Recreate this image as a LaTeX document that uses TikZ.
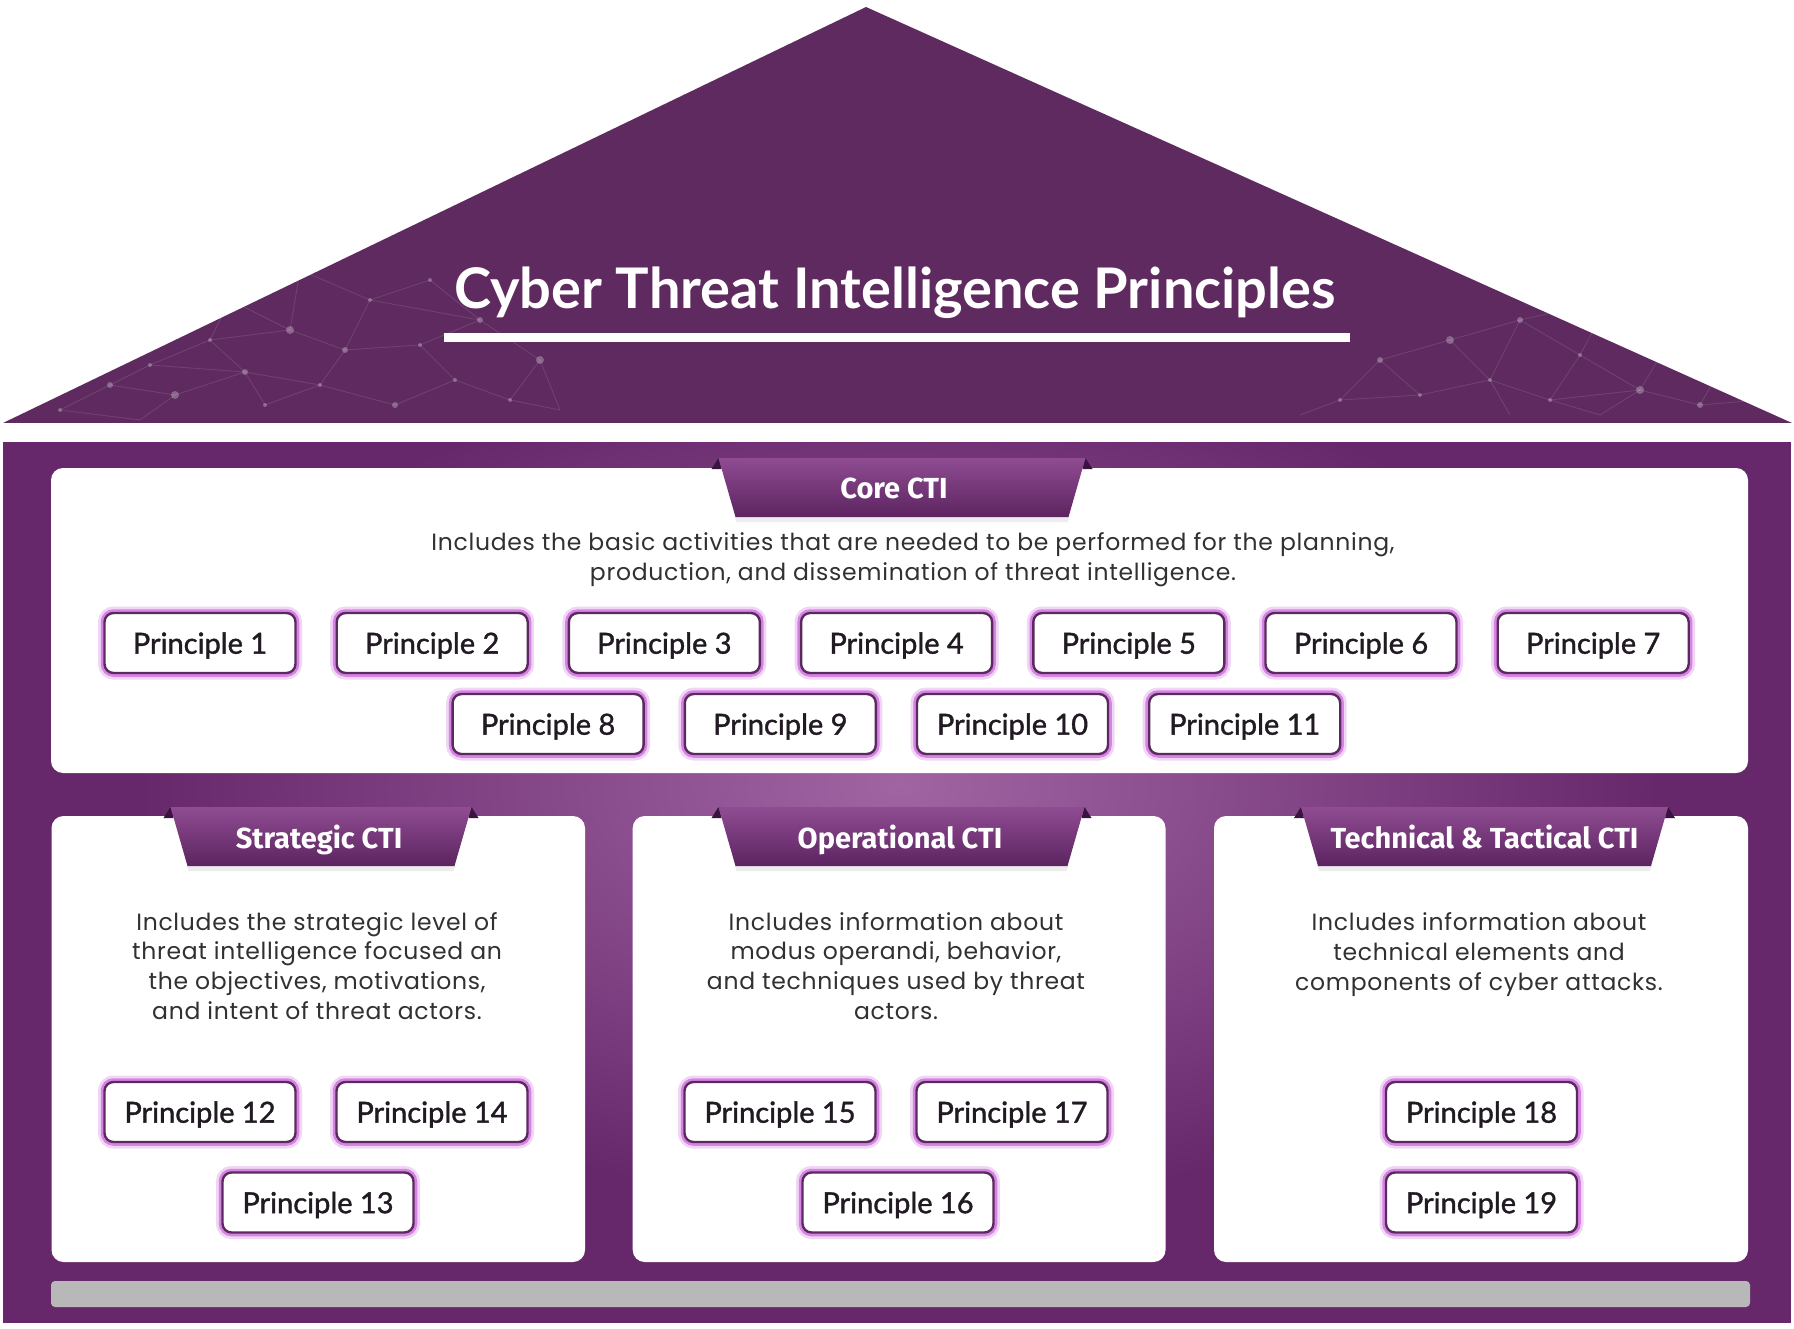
\documentclass[tikz,border=0pt]{standalone}
\usepackage{fontspec}
\setmainfont[LetterSpace=3]{Poppins}
\newfontfamily\latofont{Lato}
\newfontfamily\latosemi[FakeBold=1.3]{Lato}
\newfontfamily\firafont{Fira Sans}
\usetikzlibrary{calc}

\definecolor{roofc}{HTML}{5E2A5F}
\definecolor{bodyc}{HTML}{67286B}
\definecolor{glowc}{HTML}{A064A3}
\definecolor{bantop}{HTML}{8F4C92}
\definecolor{banbot}{HTML}{5C2460}
\definecolor{bandark}{HTML}{3A1440}
\definecolor{pbord}{HTML}{5A2A5E}
\definecolor{pglow}{HTML}{C95ADB}
\definecolor{ptext}{HTML}{221A23}
\definecolor{desctext}{HTML}{333033}
\definecolor{barc}{HTML}{B9B8B9}

\tikzset{
  principle/.style={draw=pbord, line width=2.4pt, fill=white, rounded corners=9pt,
    minimum width=191pt, minimum height=60pt, inner sep=0pt, text depth=0pt,
    text=ptext, font=\latosemi\fontsize{29}{34}\selectfont,
    preaction={draw=pglow, draw opacity=0.25, line width=13pt},
    preaction={draw=pglow, draw opacity=0.65, line width=7.5pt}},
  descr/.style={align=center, text=desctext, inner sep=0pt,
    font=\fontsize{23.5}{29.8}\selectfont},
  bantext/.style={text=white, inner sep=0pt, text depth=0pt,
    font=\firafont\bfseries\fontsize{29}{34}\selectfont},
  panel/.style={fill=white, rounded corners=12pt},
  net/.style={white, opacity=0.11, line width=0.9pt},
  netdot/.style={white, opacity=0.28}
}

% name, cx, top, half width, text, text x
\newcommand\ctiband[6]{%
  \fill[bandark] (#2-#4-7, #3+11) -- (#2-#4, #3) -- (#2-#4+3, #3+11) -- cycle;
  \fill[bandark] (#2+#4+7, #3+11) -- (#2+#4, #3) -- (#2+#4-3, #3+11) -- cycle;
  \fill[black, opacity=0.07] (#2-#4+16, #3+59) -- (#2+#4-16, #3+59)
       -- (#2+#4-18, #3+64) -- (#2-#4+18, #3+64) -- cycle;
  \shade[top color=bantop, bottom color=banbot]
       (#2-#4, #3) -- (#2+#4, #3) -- (#2+#4-17, #3+59) -- (#2-#4+17, #3+59) -- cycle;
  \node[bantext] (#1) at (#6, #3+30) {#5};
}

\begin{document}
\begin{tikzpicture}[x=1pt, y=-1pt]
\useasboundingbox (0,0) rectangle (1794,1329);
\fill[white] (0,0) rectangle (1794,1329);

% ---------- roof ----------
\fill[roofc] (3,423) -- (866,7) -- (1792,423) -- cycle;
\begin{scope}
  \clip (3,423) -- (866,7) -- (1792,423) -- cycle;
  \foreach \n/\p in {L1/{60,410}, L2/{110,385}, L3/{150,365}, L4/{175,395},
      L5/{210,340}, L6/{245,372}, L7/{265,405}, L8/{290,330}, L9/{320,385},
      L10/{345,350}, L11/{370,300}, L12/{395,405}, L13/{420,345}, L14/{455,380},
      L15/{480,320}, L16/{510,400}, L17/{540,360}, L18/{230,300}, L19/{140,420},
      L20/{300,270}, L21/{430,280}, L22/{560,410},
      R1/{1340,400}, R2/{1380,360}, R3/{1420,395}, R4/{1450,340}, R5/{1490,380},
      R6/{1520,320}, R7/{1550,400}, R8/{1580,355}, R9/{1610,300}, R10/{1640,390},
      R11/{1670,340}, R12/{1700,405}, R13/{1720,370}, R14/{1760,400},
      R15/{1510,415}, R16/{1300,415}, R17/{1600,415}}
    {\coordinate (\n) at (\p);}
  \foreach \a/\b in {L1/L2, L2/L3, L2/L4, L3/L5, L4/L6, L3/L6, L5/L6, L6/L7,
      L5/L8, L8/L10, L6/L9, L9/L10, L7/L9, L10/L11, L10/L13, L9/L12, L12/L14,
      L13/L14, L13/L15, L14/L16, L15/L17, L16/L17, L11/L15, L5/L18, L8/L18,
      L18/L20, L20/L11, L11/L21, L21/L15, L1/L19, L19/L4, L17/L22, L16/L22, L8/L20,
      R16/R1, R1/R2, R1/R3, R2/R3, R2/R4, R3/R5, R4/R5, R4/R6, R5/R6, R5/R7,
      R5/R15, R6/R8, R7/R8, R8/R9, R6/R9, R8/R10, R7/R10, R9/R11, R10/R11,
      R10/R12, R11/R13, R12/R13, R13/R14, R12/R14, R7/R17, R17/R10}
    {\draw[net] (\a) -- (\b);}
  \foreach \n/\r in {L1/2, L2/3, L3/2, L4/4, L5/2, L6/3, L7/2, L8/4, L9/2, L10/3,
      L11/2, L12/3, L13/2, L14/2, L15/3, L16/2, L17/4, L18/2, L20/2, L21/2,
      R1/2, R2/3, R3/2, R4/4, R5/2, R6/3, R7/2, R8/2, R9/3, R10/4, R11/2,
      R12/3, R13/2, R14/4}
    {\fill[netdot] (\n) circle[radius=\r pt];}
\end{scope}
\node[font=\latofont\bfseries\fontsize{56}{64}\selectfont, text=white,
      anchor=base, inner sep=0pt] (title) at (895,309)
      {Cyber Threat Intelligence Principles};
\fill[white] (444,333) rectangle (1350,342);

% ---------- body ----------
\fill[bodyc] (3,442) rectangle (1791,1323);
\begin{scope}
  \clip (3,442) rectangle (1791,1323);
  \shade[inner color=glowc, outer color=bodyc]
     (900,785) ellipse[x radius=760pt, y radius=420pt];
\end{scope}

\fill[panel] (51,468) rectangle (1748,773);
\fill[panel] (51.5,816) rectangle (585,1262);
\fill[panel] (632.7,816) rectangle (1165.5,1262);
\fill[panel] (1214,816) rectangle (1748,1262);
\fill[barc, rounded corners=4pt] (51,1281) rectangle (1750,1307);

% ---------- banners ----------
\ctiband{core}{902}{458}{183.5}{Core CTI}{894}
\ctiband{strat}{321}{807}{150.5}{Strategic CTI}{319}
\ctiband{oper}{901.5}{807}{183}{Operational CTI}{900}
\ctiband{tech}{1484.5}{807}{183.5}{Technical \& Tactical CTI}{1484.5}

% ---------- descriptions ----------
\node[descr] (coredesc) at (913,559.5)
  {Includes the basic activities that are needed to be performed for the planning,\\
   production, and dissemination of threat intelligence.};
\node[descr] (stratdesc) at (317,966)
  {Includes the strategic level of\\ threat intelligence focused an\\
   the objectives, motivations,\\ and intent of threat actors.};
\node[descr] (operdesc) at (896,966)
  {Includes information about\\ modus operandi, behavior,\\
   and techniques used by threat\\ actors.};
\node[descr] (techdesc) at (1479,954.5)
  {Includes information about\\ technical elements and\\ components of cyber attacks.};

% ---------- principles ----------
\foreach \i in {1,...,7}
  \node[principle] (p\i) at ({200+232.2*(\i-1)},643) {Principle \i};
\foreach \i/\k in {8/0, 9/1, 10/2, 11/3}
  \node[principle] (p\i) at ({548.1+232.2*\k},724) {Principle \i};
\node[principle] (p12) at (200,1112) {Principle 12};
\node[principle] (p14) at (432,1112) {Principle 14};
\node[principle] (p13) at (318,1202.5) {Principle 13};
\node[principle] (p15) at (780,1112) {Principle 15};
\node[principle] (p17) at (1012,1112) {Principle 17};
\node[principle] (p16) at (898,1202.5) {Principle 16};
\node[principle] (p18) at (1481.5,1112) {Principle 18};
\node[principle] (p19) at (1481.5,1202.5) {Principle 19};
\end{tikzpicture}
\end{document}
